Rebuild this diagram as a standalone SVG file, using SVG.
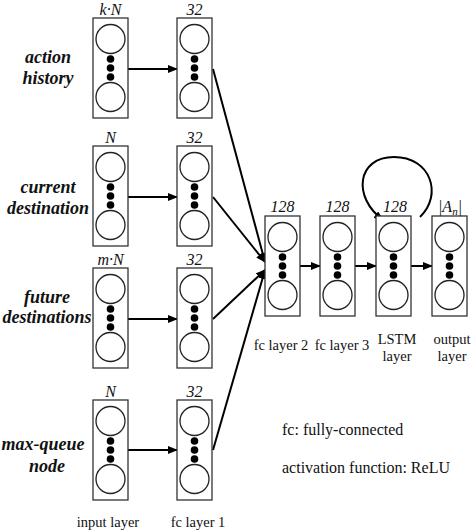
<svg xmlns="http://www.w3.org/2000/svg" width="474" height="531" viewBox="0 0 474 531">
<style>
.box{fill:#fff;stroke:#333;stroke-width:1.3}
.c{fill:none;stroke:#222;stroke-width:1.3}
.d{fill:#000}
.lbl{font-family:"Liberation Serif","Times New Roman",serif;font-weight:bold;font-style:italic;font-size:18px;text-anchor:middle;fill:#111}
.top{font-family:"Liberation Serif","Times New Roman",serif;font-style:italic;font-size:16px;text-anchor:middle;fill:#111}
.bot{font-family:"Liberation Serif","Times New Roman",serif;font-size:14.5px;text-anchor:middle;fill:#111}
.leg{font-family:"Liberation Serif","Times New Roman",serif;font-size:16px;fill:#111}
.a{fill:none;stroke:#000;stroke-width:2;marker-end:url(#ah)}
</style>
<defs>
<marker id="ah" viewBox="0 0 10 8" refX="9" refY="4" markerWidth="5" markerHeight="4" orient="auto" markerUnits="strokeWidth">
<path d="M0,0 L10,4 L0,8 z" fill="#000"/>
</marker>
<g id="col">
<rect class="box" x="0" y="0" width="35" height="100"/>
<circle class="c" cx="17.5" cy="21" r="14.5"/>
<circle class="c" cx="17.5" cy="79" r="14.5"/>
<circle class="d" cx="17.5" cy="41" r="3.8"/>
<circle class="d" cx="17.5" cy="50" r="3.8"/>
<circle class="d" cx="17.5" cy="59" r="3.8"/>
</g>
</defs>

<g id="connectors">
<line class="a" x1="128" y1="69" x2="177" y2="69"/>
<line class="a" x1="128" y1="197" x2="177" y2="197"/>
<line class="a" x1="128" y1="319" x2="177" y2="319"/>
<line class="a" x1="128" y1="450" x2="177" y2="450"/>
<line class="a" x1="213" y1="69" x2="265" y2="262"/>
<line class="a" x1="213" y1="197" x2="265" y2="262"/>
<line class="a" x1="213" y1="319" x2="265" y2="270"/>
<line class="a" x1="213" y1="450" x2="265" y2="270"/>
<line class="a" x1="300" y1="266" x2="320" y2="266"/>
<line class="a" x1="355" y1="266" x2="376" y2="266"/>
<line class="a" x1="411" y1="266" x2="432" y2="266"/>
<path class="a" d="M420 217 C443 195 431 157 394 157 C357 157 352 197 383 220"/>
</g>

<g id="label-action"><text class="lbl" x="48" y="63">action</text><text class="lbl" x="48" y="84">history</text></g>
<g id="label-current"><text class="lbl" x="48" y="193">current</text><text class="lbl" x="48" y="214">destination</text></g>
<g id="label-future"><text class="lbl" x="47" y="303">future</text><text class="lbl" x="47" y="323">destinations</text></g>
<g id="label-maxqueue"><text class="lbl" x="43" y="450">max-queue</text><text class="lbl" x="47" y="472">node</text></g>

<g id="in1"><use href="#col" x="93" y="18"/><text class="top" x="110.5" y="15">k·N</text></g>
<g id="in2"><use href="#col" x="93" y="146"/><text class="top" x="110.5" y="143">N</text></g>
<g id="in3"><use href="#col" x="93" y="268"/><text class="top" x="110.5" y="265">m·N</text></g>
<g id="in4"><use href="#col" x="93" y="400"/><text class="top" x="110.5" y="397">N</text></g>

<g id="fc1a"><use href="#col" x="177" y="18"/><text class="top" x="194.5" y="15">32</text></g>
<g id="fc1b"><use href="#col" x="177" y="146"/><text class="top" x="194.5" y="143">32</text></g>
<g id="fc1c"><use href="#col" x="177" y="268"/><text class="top" x="194.5" y="265">32</text></g>
<g id="fc1d"><use href="#col" x="177" y="400"/><text class="top" x="194.5" y="397">32</text></g>

<g id="fc2"><use href="#col" x="265" y="216"/><text class="top" x="282.5" y="212">128</text></g>
<g id="fc3"><use href="#col" x="320" y="216"/><text class="top" x="337.5" y="212">128</text></g>
<g id="lstm"><use href="#col" x="376" y="216"/><text class="top" x="395" y="212">128</text></g>
<g id="out"><use href="#col" x="432" y="216"/><text class="top" x="450" y="212">|<tspan>A</tspan><tspan font-size="11" dy="3">n</tspan><tspan dy="-3">|</tspan></text></g>

<g id="bottom-labels">
<text class="bot" x="108" y="527">input layer</text>
<text class="bot" x="198" y="527">fc layer 1</text>
<text class="bot" x="281" y="350">fc layer 2</text>
<text class="bot" x="342" y="350">fc layer 3</text>
<text class="bot" x="397" y="344">LSTM</text>
<text class="bot" x="397" y="361">layer</text>
<text class="bot" x="452" y="344">output</text>
<text class="bot" x="452" y="361">layer</text>
</g>

<g id="legend">
<text class="leg" x="282" y="435">fc: fully-connected</text>
<text class="leg" x="282" y="473">activation function: ReLU</text>
</g>
</svg>
